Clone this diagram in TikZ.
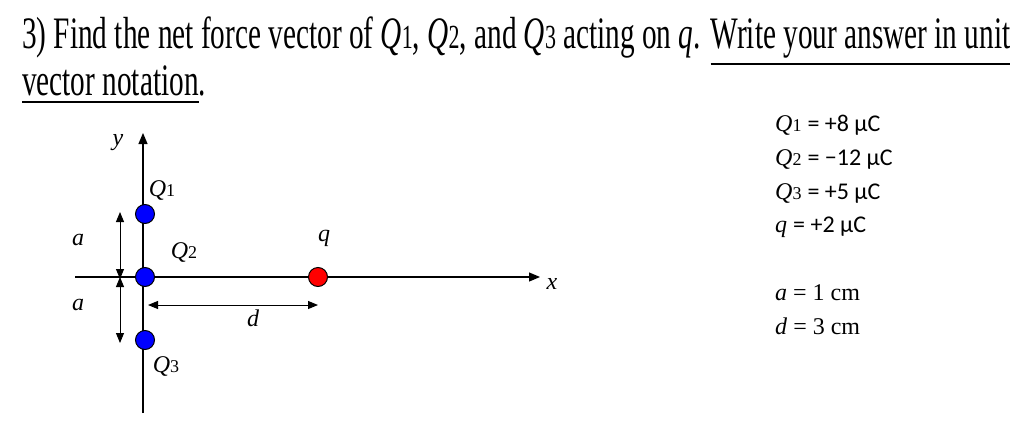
\documentclass[tikz,border=0pt]{standalone}
\usepackage{fontspec}
\setmainfont{Liberation Serif}
\newfontfamily\carl{Carlito}
\usetikzlibrary{arrows.meta}
\newcommand{\Qs}[1]{\textit{Q}{\upshape\scalebox{0.75}{#1}}}
\begin{document}
\begin{tikzpicture}[x=1pt,y=-1pt,
  lbl/.style={font=\fontsize{24}{24}\selectfont\itshape,inner sep=0},
  chg/.style={circle,draw=black,line width=1pt,minimum size=19pt,inner sep=0},
  tip/.style={-{Triangle[length=11pt,width=9pt]}},
  dtip/.style={{Triangle[length=10pt,width=8pt]}-{Triangle[length=10pt,width=8pt]}},
  rt/.style={anchor=west,inner sep=0,font=\fontsize{24}{24}\selectfont}]
\useasboundingbox (0,0) rectangle (1024,431);
\fill[white] (0,0) rectangle (1024,431);
\node[anchor=north west,inner sep=0] (title) at (22,10) {\resizebox{988pt}{62pt}{\begin{tabular}{@{}l@{}}3) Find the net force vector of \Qs1, \Qs2, and \Qs3 acting on \textit{q}. \underline{Write your answer in unit}\\[-2pt] \underline{vector notation}.\end{tabular}}};
% axes
\coordinate (yb) at (143,413); \coordinate (yt) at (143,133);
\coordinate (xl) at (75,277); \coordinate (xr) at (540,277);
\draw[line width=1.2pt,tip] (yb) -- (yt);
\draw[line width=1.2pt,tip] (xl) -- (xr);
\node[chg,fill=blue] (Q1) at (145,214) {};
\node[chg,fill=blue] (Q2) at (145,277) {};
\node[chg,fill=blue] (Q3) at (145,340) {};
\node[chg,fill=red] (q) at (318,277) {};
\node[lbl] (ly) at (118,143) {y};
\node[lbl] (lx) at (552,284) {x};
\node[lbl] (l1) at (162,190) {\Qs1};
\node[lbl] (l2) at (184,252) {\Qs2};
\node[lbl] (l3) at (166,366) {\Qs3};
\node[lbl] (lq) at (324,238) {q};
\node[lbl] (la1) at (78,240) {a};
\node[lbl] (la2) at (78,305) {a};
\node[lbl] (ld) at (253,318) {d};
\coordinate (v1) at (120,212); \coordinate (v2) at (120,279);
\coordinate (v3) at (120,277); \coordinate (v4) at (120,343);
\draw[line width=1pt,dtip] (v1) -- (v2);
\draw[line width=1pt,dtip] (v3) -- (v4);
\coordinate (d1) at (148,305); \coordinate (d2) at (318,305);
\draw[line width=1pt,dtip] (d1) -- (d2);
% right text
\node[rt] (r1) at (775,125) {\Qs1 {\carl = +8 μC}};
\node[rt] (r2) at (775,159) {\Qs2 {\carl = −12 μC}};
\node[rt] (r3) at (775,193) {\Qs3 {\carl = +5 μC}};
\node[rt] (r4) at (775,227) {\textit{q} {\carl = +2 μC}};
\node[rt] (r5) at (775,293) {\textit{a} = 1 cm};
\node[rt] (r6) at (775,326) {\textit{d} = 3 cm};
\end{tikzpicture}
\end{document}
